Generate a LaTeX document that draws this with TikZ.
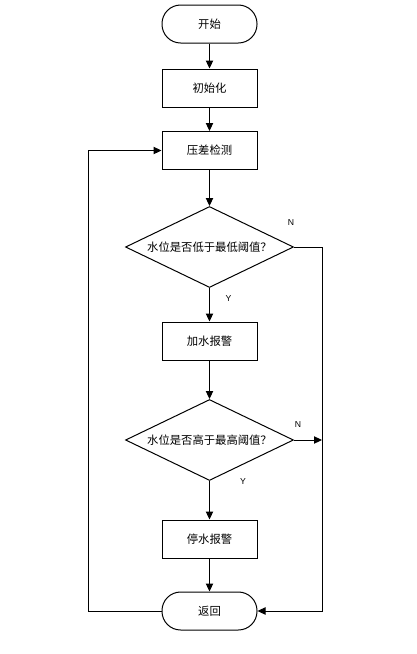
\documentclass[tikz,border=0pt]{standalone}
\usepackage{fontspec}
\setmainfont{Liberation Sans}
\newfontfamily\cjk{Noto Sans CJK SC}
\usetikzlibrary{shapes.geometric,arrows.meta}
\begin{document}
\begin{tikzpicture}[x=0.75pt,y=-0.75pt,
  line width=0.75pt,
  every node/.style={font=\cjk\fontsize{8.5}{10}\selectfont},
  procbox/.style={draw,rectangle,minimum width=71.25pt,minimum height=28.5pt,inner sep=0pt},
  termbox/.style={draw,rectangle,rounded corners=14pt,minimum width=71.25pt,minimum height=28.5pt,inner sep=0pt},
  decbox/.style={draw,diamond,aspect=2.07,minimum width=126pt,minimum height=60.75pt,inner sep=0pt},
  lbl/.style={font=\fontsize{6.5}{7}\selectfont,inner sep=0pt},
  arr/.style={-{Triangle[length=6pt,width=5.5pt]}}]
\useasboundingbox (0,0) rectangle (417,654);
\node[termbox] (start) at (209.5,24) {开始};
\node[procbox] (init) at (209.5,88) {初始化};
\node[procbox] (detect) at (209.5,150.5) {压差检测};
\node[decbox] (low) at (209.5,247) {水位是否低于最低阈值？};
\node[procbox] (add) at (209.5,341) {加水报警};
\node[decbox] (high) at (209.5,440) {水位是否高于最高阈值？};
\node[procbox] (stop) at (209.5,539) {停水报警};
\node[termbox] (ret) at (209.5,611) {返回};
\coordinate (rl) at (322,0);
\coordinate (ll) at (88,0);
\draw[arr] (start) -- (init);
\draw[arr] (init) -- (detect);
\draw[arr] (detect) -- (low);
\draw[arr] (low) -- (add);
\draw[arr] (add) -- (high);
\draw[arr] (high) -- (stop);
\draw[arr] (stop) -- (ret);
\draw[arr] (low.east) -- (low.east -| rl) -- (ret.east -| rl) -- (ret.east);
\draw[arr] (high.east) -- (high.east -| rl);
\draw[arr] (ret.west) -- (ret.west -| ll) -- (detect.west -| ll) -- (detect.west);
\node[lbl] (n1) at (291,223) {N};
\node[lbl] (y1) at (228.5,298.5) {Y};
\node[lbl] (n2) at (298,425) {N};
\node[lbl] (y2) at (243,482) {Y};
\end{tikzpicture}
\end{document}
